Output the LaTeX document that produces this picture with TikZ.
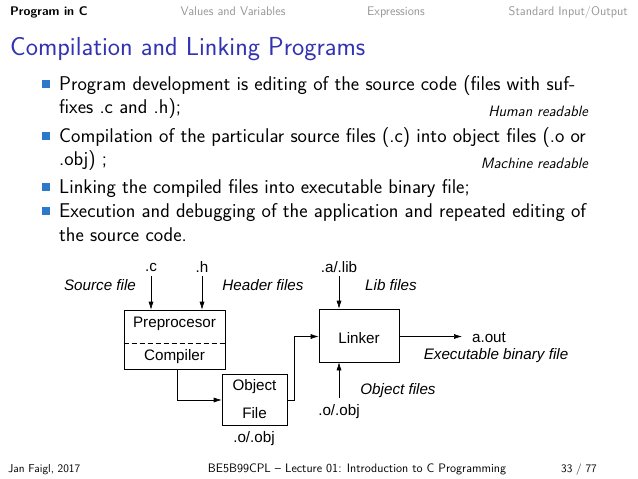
\documentclass[tikz,border=0pt]{standalone}
\usepackage{fontspec}
\newfontfamily\arial{Liberation Sans}
\usetikzlibrary{arrows.meta}
\definecolor{bblue}{RGB}{51,51,178}
\definecolor{bulc}{RGB}{45,120,200}
\definecolor{hgray}{RGB}{150,150,150}
\begin{document}
\begin{tikzpicture}[x=1pt,y=-1pt,
  body/.style={anchor=base west,inner sep=0,font=\sffamily\fontsize{19.9}{22}\selectfont},
  note/.style={anchor=base east,inner sep=0,font=\sffamily\itshape\fontsize{15}{17}\selectfont},
  hdr/.style={anchor=base,inner sep=0,font=\sffamily\fontsize{12.5}{14}\selectfont},
  bul/.style={fill=bulc,minimum size=8pt,inner sep=0},
  dg/.style={inner sep=0,font=\arial\fontsize{15.2}{18}\selectfont},
  dgi/.style={inner sep=0,font=\arial\itshape\fontsize{15.2}{18}\selectfont},
  boxx/.style={draw,line width=0.6pt},
  ar/.style={-{Latex[length=8pt,width=5pt]},line width=0.6pt}]
\useasboundingbox (0,0) rectangle (638,479);
% header
\node[hdr,anchor=base west,font=\sffamily\bfseries\fontsize{12.5}{14}\selectfont] (h1) at (10,16) {Program in C};
\node[hdr,text=hgray] (h2) at (233,16) {Values and Variables};
\node[hdr,text=hgray] (h3) at (396,16) {Expressions};
\node[hdr,text=hgray,anchor=base east] (h4) at (628,16) {Standard Input/Output};
% title
\node[anchor=base west,inner sep=0,text=bblue,font=\sffamily\fontsize{26}{30}\selectfont] (t) at (10,56) {Compilation and Linking Programs};
% bullets
\foreach \y/\n in {84/b1,136/b2,187/b3,211/b4} \node[bul] (\n) at (46,\y) {};
\node[body] (l1) at (59,90) {Program development is editing of the source code (files with suf-};
\node[body] (l2) at (59,113) {fixes .c and .h);};
\node[note] (n1) at (588,116) {Human readable};
\node[body] (l3) at (59,142) {Compilation of the particular source files (.c) into object files (.o or};
\node[body] (l4) at (59,165) {.obj) ;};
\node[note] (n2) at (588,168) {Machine readable};
\node[body] (l5) at (59,193) {Linking the compiled files into executable binary file;};
\node[body] (l6) at (59,217) {Execution and debugging of the application and repeated editing of};
\node[body] (l7) at (59,241) {the source code.};
% diagram
\node[boxx,minimum width=101pt,minimum height=59pt] (pc) at (174.5,339.5) {};
\draw[dash pattern=on 5pt off 3pt,line width=0.5pt] (pc.west |- 0,343) -- (pc.east |- 0,343);
\node[dg] (pre) at (174.5,324) {Preprocesor};
\node[dg] (com) at (174.5,357) {Compiler};
\node[boxx,minimum width=65pt,minimum height=51pt] (ob) at (254.5,399.5) {};
\node[dg] (obt) at (254.5,387) {Object};
\node[dg] (obf) at (254.5,413) {File};
\node[dg] (obo) at (254,439) {.o/.obj};
\node[boxx,minimum width=80pt,minimum height=53pt] (lk) at (359,335.5) {};
\node[dg] (lkt) at (359,338) {Linker};
\node[dg] (c) at (151,267) {.c};
\node[dg] (h) at (202,267) {.h};
\node[dgi] (sf) at (100,285) {Source file};
\node[dgi] (hf) at (263,285) {Header files};
\node[dg] (al) at (339,267) {.a/.lib};
\node[dgi] (lf) at (391,285) {Lib files};
\node[dgi] (of) at (398,391) {Object files};
\node[dg] (oo) at (339,412) {.o/.obj};
\node[dg] (ao) at (489,338) {a.out};
\node[dgi] (eb) at (496,356) {Executable binary file};
\coordinate (cx) at (151,276);
\coordinate (hx) at (202,276);
\coordinate (lx) at (339,276);
\coordinate (ox) at (339,398);
\coordinate (end) at (462,336.5);
\draw[ar] (cx) -- (cx |- pc.north);
\draw[ar] (hx) -- (hx |- pc.north);
\draw[ar] (lx) -- (lx |- lk.north);
\draw[ar] (ox) -- (ox |- lk.south);
\draw[ar] (177,369) -- (177,400) -- (ob.west |- 0,400);
\draw[ar] (ob.east |- 0,400) -- (294,400) -- (294,336.5) -- (lk.west |- 0,336.5);
\draw[ar] (lk.east |- end) -- (end);
% footer
\node[hdr,anchor=base west,font=\sffamily\fontsize{11.5}{13}\selectfont] (f1) at (8,472) {Jan Faigl, 2017};
\node[hdr,font=\sffamily\fontsize{12.3}{14}\selectfont] (f2) at (357,472) {BE5B99CPL -- Lecture 01: Introduction to C Programming};
\node[hdr,font=\sffamily\fontsize{11.5}{13}\selectfont] (f3) at (579,472) {33 / 77};
\end{tikzpicture}
\end{document}
